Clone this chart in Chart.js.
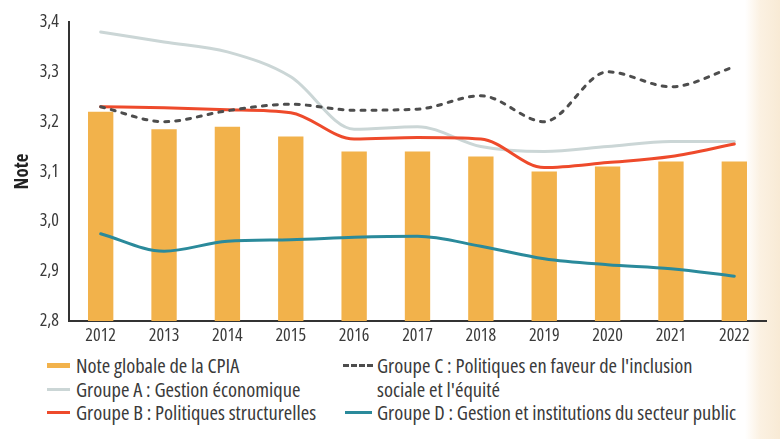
<!DOCTYPE html>
<html>
<head>
<meta charset="utf-8">
<script src="https://cdn.jsdelivr.net/npm/chart.js@4"></script>
<style>
  html, body {
    margin: 0;
    padding: 0;
  }
  body {
    width: 780px;
    height: 439px;
    overflow: hidden;
    background: linear-gradient(to right, #ffffff 0px, #ffffff 745px, #fbf1e2 760px, #f8ead5 780px);
    font-family: "Open Sans", sans-serif;
    font-stretch: 75%;
    color: #3a3a3a;
    position: relative;
  }
  #wrap {
    position: absolute;
    left: 0;
    top: 0;
    width: 780px;
    height: 350px;
  }
  #legend {
    position: absolute;
    top: 353px;
    left: 0;
    width: 780px;
    font-size: 20.5px;
  }
  .item {
    position: absolute;
    display: flex;
    align-items: flex-start;
    line-height: 24px;
    white-space: nowrap;
  }
  .sw {
    width: 23px;
    height: 0;
    margin-top: 11px;
    margin-right: 6px;
  }
</style>
</head>
<body>
<div id="wrap"><canvas id="chart"></canvas></div>
<div id="legend">
  <div class="item" style="left:47px; top:0px;"><span class="sw" style="border-top:5px solid #f2b24b; margin-top:10px;"></span><span>Note globale de la CPIA</span></div>
  <div class="item" style="left:47px; top:24px;"><span class="sw" style="border-top:3px solid #cbd6d6;"></span><span>Groupe A : Gestion économique</span></div>
  <div class="item" style="left:47px; top:47px;"><span class="sw" style="border-top:3px solid #ee4a2b;"></span><span>Groupe B : Politiques structurelles</span></div>
  <div class="item" style="left:343px; top:0px;"><span class="sw" style="width:30px; margin-right:4px; border-top:3px dashed #4d4d4d;"></span><span>Groupe C : Politiques en faveur de l'inclusion<br>sociale et l'équité</span></div>
  <div class="item" style="left:345px; top:47px;"><span class="sw" style="width:27px; margin-right:5px; border-top:3px solid #2a8a9b;"></span><span>Groupe D : Gestion et institutions du secteur public</span></div>
</div>
<script>
// Années
const years = ['2012', '2013', '2014', '2015', '2016', '2017', '2018', '2019', '2020', '2021', '2022'];

// Note globale de la CPIA (barres)
const cpiaGlobal = [3.22, 3.185, 3.19, 3.17, 3.14, 3.14, 3.13, 3.10, 3.11, 3.12, 3.12];

// Groupes A-D (courbes)
const groupA = [3.38, 3.36, 3.34, 3.29, 3.185, 3.19, 3.15, 3.14, 3.15, 3.16, 3.16];
const groupB = [3.23, 3.228, 3.224, 3.218, 3.165, 3.168, 3.165, 3.108, 3.118, 3.13, 3.155];
const groupC = [3.23, 3.20, 3.222, 3.235, 3.223, 3.225, 3.252, 3.20, 3.30, 3.27, 3.31];
const groupD = [2.975, 2.94, 2.96, 2.963, 2.968, 2.97, 2.95, 2.925, 2.913, 2.905, 2.89];

// Graduations de l'axe Y
const yTicks = [2.8, 2.9, 3.0, 3.1, 3.2, 3.3, 3.4];

// Open Sans en largeur condensée (le mot-clé passe dans la chaîne font du canvas)
const font = "'Open Sans', sans-serif";
const textColor = '#3a3a3a';

const lineStyle = {
  type: 'line',
  borderWidth: 3,
  pointRadius: 0,
  pointHoverRadius: 0,
  cubicInterpolationMode: 'monotone',
  borderCapStyle: 'round',
  fill: false,
};

const ctx = document.getElementById('chart').getContext('2d');

new Chart(ctx, {
  data: {
    labels: years,
    datasets: [
      {
        type: 'bar',
        label: 'Note globale de la CPIA',
        data: cpiaGlobal,
        backgroundColor: '#f2b24b',
        barPercentage: 0.4,
        categoryPercentage: 1.0,
        order: 10,
      },
      { ...lineStyle, label: 'Groupe A : Gestion économique', data: groupA, borderColor: '#cbd6d6', order: 4 },
      { ...lineStyle, label: 'Groupe B : Politiques structurelles', data: groupB, borderColor: '#ee4a2b', order: 3 },
      { ...lineStyle, label: "Groupe C : Politiques en faveur de l'inclusion sociale et l'équité", data: groupC, borderColor: '#4d4d4d', borderDash: [4, 7], order: 2 },
      { ...lineStyle, label: 'Groupe D : Gestion et institutions du secteur public', data: groupD, borderColor: '#2a8a9b', order: 1 },
    ]
  },
  options: {
    responsive: true,
    maintainAspectRatio: false,
    animation: false,
    layout: {
      padding: { left: 0, right: 14, top: 22, bottom: 0 }
    },
    plugins: {
      legend: { display: false },
      tooltip: { enabled: false }
    },
    scales: {
      x: {
        grid: { display: false, drawTicks: false },
        border: { display: true, color: '#333333', width: 2 },
        ticks: {
          color: textColor,
          font: { family: font, size: 18, weight: 'normal condensed' },
          padding: 4,
        },
        afterFit: (scale) => { scale.height = 29; }
      },
      y: {
        min: 2.8,
        max: 3.4,
        grid: { display: false, drawTicks: false },
        border: { display: true, color: '#333333', width: 2 },
        afterBuildTicks: (scale) => {
          scale.ticks = yTicks.map(v => ({ value: v }));
        },
        ticks: {
          color: textColor,
          font: { family: font, size: 18, weight: 'normal condensed' },
          padding: 10,
          callback: (value) => value.toFixed(1).replace('.', ',')
        },
        title: {
          display: true,
          text: 'Note',
          color: '#222222',
          font: { family: font, size: 19, weight: 'bold condensed' },
          padding: { top: 11, bottom: 0 }
        },
        afterFit: (scale) => { scale.width = 69; }
      }
    }
  }
});
</script>
</body>
</html>
